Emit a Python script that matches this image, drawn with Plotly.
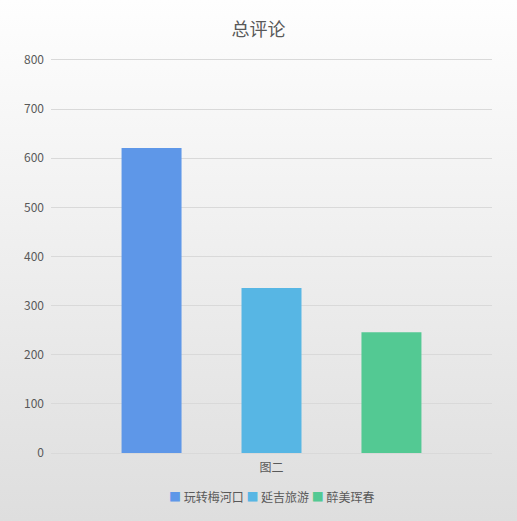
import base64
import plotly.graph_objects as go

# data
category = ["图二"]
series_names = ["玩转梅河口", "延吉旅游", "醉美珲春"]
series_values = [[621], [336], [246]]
series_colors = ["#5E97E8", "#57B6E4", "#53C993"]
y_ticks = [0, 100, 200, 300, 400, 500, 600, 700, 800]

W, H = 517, 521
M = dict(l=51, r=25, t=58, b=68)

fig = go.Figure()
for name, vals, col in zip(series_names, series_values, series_colors):
    fig.add_trace(go.Bar(name=name, x=category, y=vals, marker_color=col,
                         marker_line_width=0, showlegend=False))

# vertical gradient background, as an svg image stretched over the page
svg = (
    '<svg xmlns="http://www.w3.org/2000/svg" width="10" height="100" preserveAspectRatio="none">'
    '<defs><linearGradient id="g" x1="0" y1="0" x2="0" y2="1">'
    '<stop offset="0" stop-color="#FEFEFE"/><stop offset="1" stop-color="#DEDEDE"/>'
    '</linearGradient></defs><rect width="10" height="100" fill="url(#g)"/></svg>'
)
src = "data:image/svg+xml;base64," + base64.b64encode(svg.encode()).decode()
pw = W - M["l"] - M["r"]
ph = H - M["t"] - M["b"]
fig.add_layout_image(
    source=src, xref="paper", yref="paper",
    x=-M["l"] / pw, y=1 + M["t"] / ph,
    sizex=W / pw, sizey=H / ph,
    xanchor="left", yanchor="top", sizing="stretch", layer="below",
)

# compact legend like the original: small square + name
legend_text = " ".join(
    f'<span style="color:{c}">■</span> {n}' for n, c in zip(series_names, series_colors)
)
fig.add_annotation(text=legend_text, xref="paper", yref="paper", x=0.5, y=-44 / ph,
                   xanchor="center", yanchor="middle", showarrow=False,
                   font=dict(size=12, color="#595959"))

fig.update_layout(
    width=W, height=H,
    margin=M,
    title=dict(text="总评论", x=0.5, xanchor="center", y=1 - 30 / H, yanchor="middle",
               font=dict(size=18, color="#595959")),
    font=dict(family="Noto Sans CJK SC, sans-serif", size=12, color="#595959"),
    paper_bgcolor="rgba(0,0,0,0)",
    plot_bgcolor="rgba(0,0,0,0)",
    barmode="group",
    bargap=0.184,
    bargroupgap=0.5,
    showlegend=False,
)
fig.update_xaxes(showgrid=False, showline=True, linecolor="#D9D9D9", linewidth=1,
                 ticks="", tickfont=dict(size=12, color="#595959"), ticklabelstandoff=4)
# a little headroom above 800 so its gridline is drawn
fig.update_yaxes(range=[0, 804], tickvals=y_ticks, showgrid=True, gridcolor="#D9D9D9",
                 gridwidth=1, zeroline=False, showline=False, ticks="",
                 tickfont=dict(size=12, color="#595959"), ticklabelstandoff=6)

fig.write_html("out.html", config={"displayModeBar": False},
               post_script="document.body.style.margin='0';")
